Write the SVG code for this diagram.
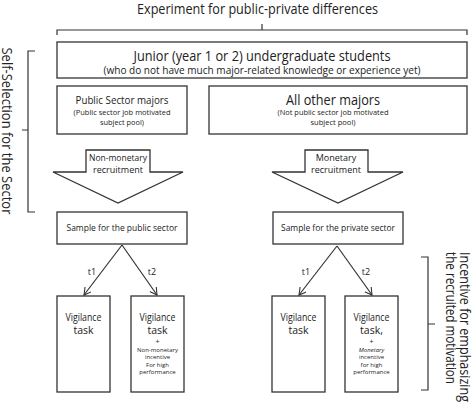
<svg xmlns="http://www.w3.org/2000/svg" width="474" height="404" viewBox="0 0 474 404">
<defs>
<style>
text{font-family:"Open Sans","Noto Sans","Liberation Sans",sans-serif;fill:#222;text-anchor:middle}
.box{fill:#fff;stroke:#333;stroke-width:1.3}
.ln{fill:none;stroke:#333;stroke-width:1.2}
.big{font-size:14px}
.mid{font-size:9px}
.sm{font-size:7px}
.xs{font-size:6px}
.vt{font-size:10.5px}
</style>
<marker id="ah" markerWidth="10" markerHeight="10" refX="7" refY="4" orient="auto" markerUnits="userSpaceOnUse">
<path d="M0,0 L7,4 L0,8" fill="none" stroke="#333" stroke-width="1.1"/>
</marker>
</defs>
<rect width="474" height="404" fill="#fff"/>

<g id="title">
<text class="big" x="257.5" y="14" textLength="241" lengthAdjust="spacingAndGlyphs">Experiment for public-private differences</text>
</g>

<g id="braces">
<path class="ln" d="M57,35 V30 H467 V35 M262,30 V24"/>
<path class="ln" d="M35,51 H28 V212 H35 M28,130 H22"/>
<path class="ln" d="M421,257 H428 V390 H421 M428,324 H435"/>
</g>

<g id="label-left">
<text class="big" transform="translate(1.5,131) rotate(90)" x="0" y="0" textLength="167" lengthAdjust="spacingAndGlyphs">Self-Selection for the Sector</text>
</g>
<g id="label-right">
<text class="big" transform="translate(460,252) rotate(90)" x="0" y="0" style="text-anchor:start" textLength="150" lengthAdjust="spacingAndGlyphs">Incentive for emphasizing</text>
<text class="big" transform="translate(446,252) rotate(90)" x="0" y="0" style="text-anchor:start" textLength="132" lengthAdjust="spacingAndGlyphs">the recruited motivation</text>
</g>

<g id="junior">
<rect class="box" x="57" y="42" width="410" height="36"/>
<text class="big" x="262" y="60.5" textLength="257" lengthAdjust="spacingAndGlyphs">Junior (year 1 or 2) undergraduate students</text>
<text x="262" y="74" style="font-size:10px" textLength="317" lengthAdjust="spacingAndGlyphs">(who do not have much major-related knowledge or experience yet)</text>
</g>

<g id="public-majors">
<rect class="box" x="57" y="86" width="130" height="48"/>
<text x="122" y="104" style="font-size:10px" textLength="93" lengthAdjust="spacingAndGlyphs">Public Sector majors</text>
<text class="sm" x="122" y="115" textLength="97" lengthAdjust="spacingAndGlyphs">(Public sector job motivated</text>
<text class="sm" x="122" y="125" textLength="44" lengthAdjust="spacingAndGlyphs">subject pool)</text>
</g>

<g id="other-majors">
<rect class="box" x="209" y="86" width="258" height="48"/>
<text class="big" x="333" y="105" textLength="94" lengthAdjust="spacingAndGlyphs">All other majors</text>
<text class="sm" x="333" y="115" textLength="111" lengthAdjust="spacingAndGlyphs">(Not public sector job motivated</text>
<text class="sm" x="333" y="125" textLength="45" lengthAdjust="spacingAndGlyphs">subject pool)</text>
</g>

<g id="arrow-nonmonetary">
<path class="box" d="M86,150 H150 V172 H183 L118,203 L53,172 H86 Z"/>
<text class="mid" x="118" y="161" textLength="58" lengthAdjust="spacingAndGlyphs">Non-monetary</text>
<text class="mid" x="118" y="173">recruitment</text>
</g>

<g id="arrow-monetary">
<path class="box" d="M305,150 H368 V172 H403 L338,203 L272,172 H305 Z"/>
<text class="mid" x="336" y="161">Monetary</text>
<text class="mid" x="336" y="173">recruitment</text>
</g>

<g id="sample-public">
<rect class="box" x="57" y="212" width="130" height="32"/>
<text class="mid" x="122" y="231" textLength="111" lengthAdjust="spacingAndGlyphs">Sample for the public sector</text>
</g>

<g id="sample-private">
<rect class="box" x="273" y="212" width="130" height="32"/>
<text class="mid" x="338" y="231" textLength="114" lengthAdjust="spacingAndGlyphs">Sample for the private sector</text>
</g>

<g id="connectors">
<line class="ln" x1="122" y1="245" x2="84" y2="295" marker-end="url(#ah)"/>
<line class="ln" x1="122" y1="245" x2="157" y2="295" marker-end="url(#ah)"/>
<line class="ln" x1="337" y1="246" x2="299" y2="295" marker-end="url(#ah)"/>
<line class="ln" x1="337" y1="246" x2="372" y2="295" marker-end="url(#ah)"/>
<text class="mid" x="92" y="275">t1</text>
<text class="mid" x="152" y="275">t2</text>
<text class="mid" x="306" y="275">t1</text>
<text class="mid" x="366" y="275">t2</text>
</g>

<g id="task-public-t1">
<rect class="box" x="57" y="296" width="53" height="96"/>
<text class="vt" x="83.5" y="320.5" textLength="36" lengthAdjust="spacingAndGlyphs">Vigilance</text>
<text class="vt" x="83.5" y="334">task</text>
</g>

<g id="task-public-t2">
<rect class="box" x="131" y="296" width="53" height="96"/>
<text class="vt" x="157.5" y="320.5" textLength="36" lengthAdjust="spacingAndGlyphs">Vigilance</text>
<text class="vt" x="157.5" y="334">task</text>
<text class="sm" x="157.5" y="343.5">+</text>
<text class="xs" x="157.5" y="352">Non-monetary</text>
<text class="xs" x="157.5" y="359">incentive</text>
<text class="xs" x="157.5" y="367">For high</text>
<text class="xs" x="157.5" y="374">performance</text>
</g>

<g id="task-private-t1">
<rect class="box" x="272" y="296" width="53" height="96"/>
<text class="vt" x="298.5" y="320.5" textLength="36" lengthAdjust="spacingAndGlyphs">Vigilance</text>
<text class="vt" x="298.5" y="334">task</text>
</g>

<g id="task-private-t2">
<rect class="box" x="345" y="296" width="53" height="96"/>
<text class="vt" x="371.5" y="320.5" textLength="36" lengthAdjust="spacingAndGlyphs">Vigilance</text>
<text class="vt" x="371.5" y="334">task,</text>
<text class="sm" x="371.5" y="343.5">+</text>
<text class="xs" x="371.5" y="352" font-style="italic">Monetary</text>
<text class="xs" x="371.5" y="359">incentive</text>
<text class="xs" x="371.5" y="367">for high</text>
<text class="xs" x="371.5" y="374">performance</text>
</g>
</svg>
